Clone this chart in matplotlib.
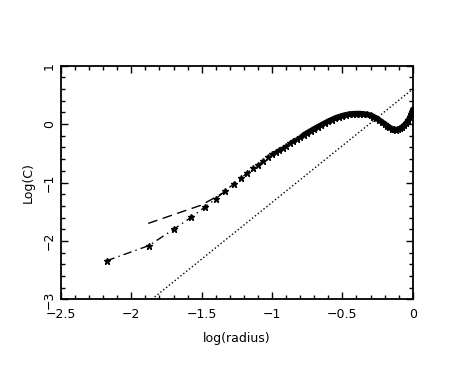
import numpy as np
import matplotlib
matplotlib.use("Agg")
import matplotlib.pyplot as plt
from matplotlib.ticker import MultipleLocator

# profile: log(radius) vs Log(C)
log_r = [-2.176, -1.875, -1.699, -1.574, -1.477, -1.398, -1.331, -1.273,
         -1.222, -1.176, -1.135, -1.097, -1.062, -1.030, -1.000, -0.975,
         -0.950, -0.925, -0.900, -0.875, -0.850, -0.825, -0.800, -0.775,
         -0.750, -0.725, -0.700, -0.675, -0.650, -0.625, -0.600, -0.575,
         -0.550, -0.525, -0.500, -0.475, -0.450, -0.425, -0.400, -0.375,
         -0.350, -0.325, -0.300, -0.280, -0.260, -0.240, -0.220, -0.200,
         -0.180, -0.165, -0.150, -0.135, -0.120, -0.105, -0.090, -0.075,
         -0.060, -0.045, -0.030, -0.020, -0.010, -0.004, 0.000]
log_c = [-2.34, -2.08, -1.80, -1.595, -1.42, -1.275, -1.14, -1.025,
         -0.925, -0.835, -0.76, -0.695, -0.63, -0.57, -0.52, -0.482,
         -0.445, -0.407, -0.370, -0.332, -0.295, -0.257, -0.220, -0.185,
         -0.150, -0.115, -0.080, -0.047, -0.015, 0.018, 0.048, 0.078,
         0.104, 0.126, 0.145, 0.160, 0.171, 0.178, 0.181, 0.180,
         0.175, 0.165, 0.150, 0.130, 0.103, 0.072, 0.038, 0.003,
         -0.033, -0.058, -0.078, -0.091, -0.095, -0.089, -0.075, -0.052,
         -0.022, 0.020, 0.070, 0.115, 0.170, 0.215, 0.250]

# dashed model near the centre
dash_r = [-1.880, -1.500, -1.334]
dash_c = [-1.70, -1.385, -1.158]

# dotted power law
dot_r = [-1.855, 0.0]
dot_c = [-3.0, 0.6]

fig = plt.figure(figsize=(4.74, 3.66), dpi=100)
ax = fig.add_axes([0.1287, 0.1822, 0.742, 0.6383])

r = np.array(log_r)
c = np.array(log_c)
ax.plot(r, c, color='black', linewidth=1.0, dashes=(6, 3, 1, 3))
# outer points are so dense that the stars merge into a thick band
dense = r >= -0.78
ax.plot(r[dense], c[dense], color='black', linewidth=4.0,
        solid_capstyle='round')
ax.plot(r, c, linestyle='none', marker='*', markersize=5, color='black')
ax.plot(dash_r, dash_c, color='black', linewidth=1.0, dashes=(7, 4))
ax.plot(dot_r, dot_c, color='black', linewidth=1.0, linestyle=':')

ax.set_xlim(-2.5, 0)
ax.set_ylim(-3, 1)
ax.xaxis.set_major_locator(MultipleLocator(0.5))
ax.xaxis.set_minor_locator(MultipleLocator(0.1))
ax.yaxis.set_major_locator(MultipleLocator(1))
ax.yaxis.set_minor_locator(MultipleLocator(0.2))
fmt = plt.FuncFormatter(lambda v, p: f"{v:g}".replace('-', '\u2212'))
ax.xaxis.set_major_formatter(fmt)
ax.yaxis.set_major_formatter(fmt)

ax.tick_params(which='both', direction='in', top=True, right=True,
               width=1.0, labelsize=9)
ax.tick_params(which='major', length=5)
ax.tick_params(which='minor', length=3)
ax.tick_params(axis='x', pad=6)
for lab in ax.get_yticklabels():
    lab.set_rotation(90)
    lab.set_va('center')
for s in ax.spines.values():
    s.set_linewidth(1.3)

ax.set_xlabel('log(radius)', fontsize=9, labelpad=8)
ax.set_ylabel('Log(C)', fontsize=9, labelpad=6)

fig.savefig('out.png', dpi=100)
